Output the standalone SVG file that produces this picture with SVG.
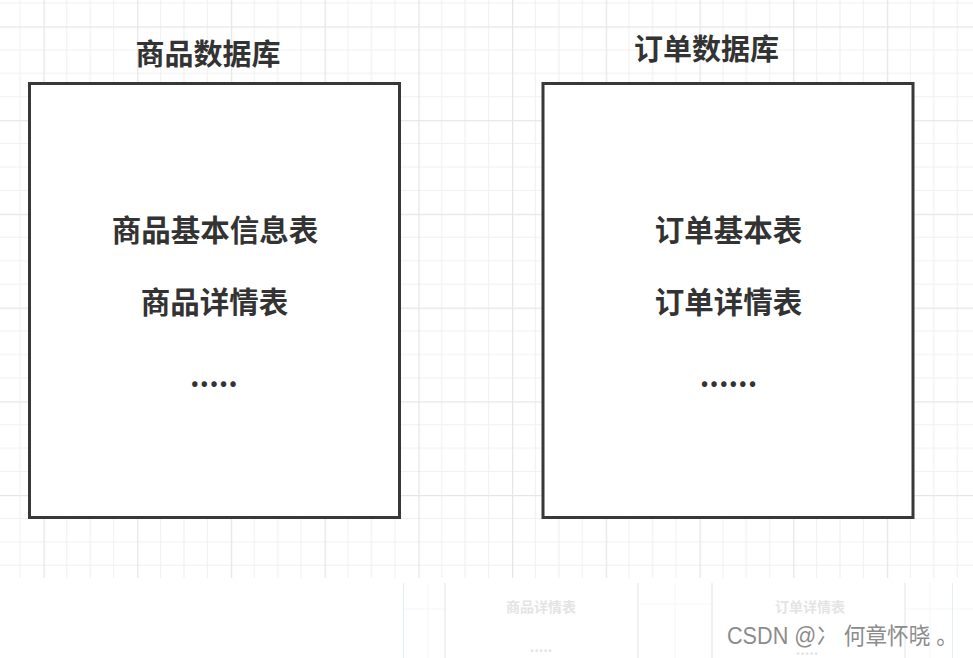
<svg xmlns="http://www.w3.org/2000/svg" width="973" height="658" viewBox="0 0 973 658">
  <defs>
    <pattern id="grid" patternUnits="userSpaceOnUse" x="43.4" y="26.4" width="93.72" height="93.72">
      <path d="M23.43 0V93.72M46.86 0V93.72M70.29 0V93.72M0 23.43H93.72M0 46.86H93.72M0 70.29H93.72" stroke="#f1f1f1" stroke-width="1.2" fill="none"/>
      <path d="M0.6 0V93.72M0 0.6H93.72" stroke="#e6e6e6" stroke-width="1.4" fill="none"/>
    </pattern>
    <style>
      .box { fill: #ffffff; stroke: #383838; stroke-width: 3; }
      .title { font-family: "Noto Sans CJK SC", "Noto Sans", sans-serif; font-weight: bold; font-size: 29px; fill: #333333; text-anchor: middle; }
      .item { font-family: "Noto Sans CJK SC", "Noto Sans", sans-serif; font-weight: bold; font-size: 29.5px; fill: #333333; text-anchor: middle; }
      .ghost { font-family: "Noto Sans CJK SC", "Noto Sans", sans-serif; font-weight: bold; font-size: 14px; fill: #e4e4e4; text-anchor: middle; }
      .gline { stroke: #ececec; stroke-width: 1.5; }
      .bline { stroke: #e2edf5; stroke-width: 1; }
      .fline { stroke: #f6f6f6; stroke-width: 1; }
      .wm { font-family: "Liberation Sans", "Noto Sans CJK SC", sans-serif; font-size: 23px; fill: #8c8c8c; }
    </style>
  </defs>

  <rect x="0" y="0" width="973" height="658" fill="#ffffff"/>
  <rect x="0" y="0" width="973" height="578" fill="url(#grid)"/>

  <!-- faint lower strip -->
  <g id="lower-strip">
    <path class="fline" d="M403 609H445M638 604H712M905 609H973M428 583V658M675 583V658M930 583V658"/>
    <line class="bline" x1="403.5" y1="583" x2="403.5" y2="658"/>
    <line class="gline" x1="445" y1="583" x2="445" y2="658"/>
    <line class="gline" x1="638" y1="583" x2="638" y2="658"/>
    <line class="gline" x1="712" y1="583" x2="712" y2="658"/>
    <line class="gline" x1="905" y1="583" x2="905" y2="658"/>
    <line class="bline" x1="952.5" y1="583" x2="952.5" y2="658"/>
    <text class="ghost" x="541" y="612">商品详情表</text>
    <text class="ghost" x="541" y="652">.....</text>
    <text class="ghost" x="810" y="612">订单详情表</text>
    <text class="ghost" x="807" y="655">.....</text>
  </g>

  <g id="goods-db">
    <text class="title" x="208" y="64.5">商品数据库</text>
    <rect class="box" x="29.5" y="83.5" width="370" height="434"/>
    <text class="item" x="215" y="240.5">商品基本信息表</text>
    <text class="item" x="214.5" y="312.5">商品详情表</text>
    <text class="item" x="214" y="387">.....</text>
  </g>

  <g id="order-db">
    <text class="title" x="706.5" y="59.5">订单数据库</text>
    <rect class="box" x="543" y="83.5" width="370" height="434"/>
    <text class="item" x="728.5" y="240.5">订单基本表</text>
    <text class="item" x="728.5" y="312.5">订单详情表</text>
    <text class="item" x="728.5" y="387">......</text>
  </g>

  <g id="connectors"></g>

  <text class="wm" x="727" y="644" textLength="231" lengthAdjust="spacingAndGlyphs">CSDN @冫 何章怀晓 。</text>
</svg>
